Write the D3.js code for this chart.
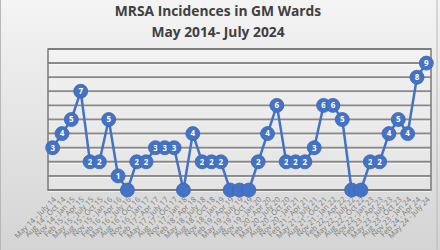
<!DOCTYPE html>
<html><head><meta charset="utf-8">
<script src="https://cdn.jsdelivr.net/npm/d3@7"></script>
<style>html,body{margin:0;padding:0;background:#fff;}svg{display:block;}</style>
</head><body>
<svg id="c" width="440" height="250"></svg>
<script>
const periods = ["May 14 - July 14","Aug 14 - Oct 14","Nov 14 - Jan 15","Feb 15 - Apr 15",
"May 15 - July 15","Aug 15 - Oct 15","Nov 15 - Jan 16","Feb 16 - Apr 16",
"May 16 - July 16","Aug 16 - Oct 16","Nov 16 - Jan 17","Feb 17 - Apr 17",
"May 17 - July 17","Aug 17 - Oct 17","Nov 17 - Jan 18","Feb 18 - Apr 18",
"May 18 - July 18","Aug 18 - Oct 18","Nov 18 - Jan 19","Feb 19 - Apr 19",
"May 19 - July 19","Aug 19 - Oct 19","Nov 19 - Jan 20","Feb 20 - Apr 20",
"May 20 - July 20","Aug 20 - Oct 20","Nov 20 - Jan 21","Feb 21 - Apr 21",
"May 21 - July 21","Aug 21 - Oct 21","Nov 21 - Jan 22","Feb 22 - Apr 22",
"May 22 - July 22","Aug 22 - Oct 22","Nov 22 - Jan 23","Feb 23 - Apr 23",
"May 23 - July 23","Aug 23 - Oct 23","Nov 23 - Jan 24","Feb 24 - Apr 24",
"May 24 - July 24"];
const incidences = [3,4,5,7,2,2,5,1,0,2,2,3,3,3,0,4,2,2,2,0,0,0,2,4,6,2,2,2,3,6,6,5,0,0,2,2,4,5,4,8,9];
const yTicks = [0,1,2,3,4,5,6,7,8,9,10];
const titleLines = ["MRSA Incidences in GM Wards","May 2014- July 2024"];

const svg = d3.select("#c");
const W=440,H=250;
const defs = svg.append("defs");
const g1 = defs.append("linearGradient").attr("id","bg").attr("x1",0).attr("y1",0).attr("x2",0).attr("y2",1);
g1.append("stop").attr("offset","0%").attr("stop-color","#f4f4f4");
g1.append("stop").attr("offset","100%").attr("stop-color","#d4d4d4");
const g2 = defs.append("linearGradient").attr("id","pa").attr("x1",0).attr("y1",0).attr("x2",0).attr("y2",1);
g2.append("stop").attr("offset","0%").attr("stop-color","#f2f2f2");
g2.append("stop").attr("offset","100%").attr("stop-color","#e4e4e4");

svg.append("rect").attr("x",0).attr("y",0).attr("width",W).attr("height",H).attr("fill","url(#bg)");
svg.append("rect").attr("x",0.5).attr("y",-2).attr("width",436.5).attr("height",H+4)
  .attr("fill","none").attr("stroke","#b8b8b8").attr("stroke-width",1);

const L=48,R=431,T=49,B=190;
const x = d3.scaleBand().domain(periods).range([L,R]);
const y = d3.scaleLinear().domain([0,10]).range([B,T]);

svg.append("rect").attr("x",L).attr("y",T).attr("width",R-L).attr("height",B-T).attr("fill","url(#pa)");

// gridlines
svg.append("g").selectAll("line").data(yTicks).join("line")
  .attr("x1",L).attr("x2",R).attr("y1",d=>y(d)).attr("y2",d=>y(d))
  .attr("stroke","#8a8a8a").attr("stroke-width",2);
svg.append("g").selectAll("line").data(yTicks.slice(0,-1)).join("line")
  .attr("x1",L).attr("x2",R).attr("y1",d=>y(d)+1.5).attr("y2",d=>y(d)+1.5)
  .attr("stroke","#ffffff").attr("stroke-width",1).attr("opacity",0.6);
svg.append("rect").attr("x",L).attr("y",T).attr("width",R-L).attr("height",B-T)
  .attr("fill","none").attr("stroke","#7a7a7a").attr("stroke-width",1.5);

// x axis labels
const xAxis = d3.axisBottom(x).tickSize(0).tickPadding(0);
const ax = svg.append("g").attr("transform",`translate(0,${B})`).call(xAxis);
ax.select(".domain").remove();
ax.selectAll("text")
  .attr("font-family","'Open Sans', sans-serif").attr("font-size","7.6px").attr("fill","#7c7c7c")
  .attr("text-anchor","end").attr("dy",0).attr("y",0)
  .attr("transform","translate(4,10) rotate(-45)");

// line
const cx = d=>x(d)+x.bandwidth()/2;
const line = d3.line().x((d,i)=>cx(periods[i])).y(d=>y(d));
svg.append("path").datum(incidences).attr("d",line)
  .attr("fill","none").attr("stroke","#4472c4").attr("stroke-width",2.5).attr("stroke-linejoin","round");

const pts = svg.append("g").selectAll("g").data(incidences).join("g")
  .attr("transform",(d,i)=>`translate(${cx(periods[i])},${y(d)})`);
pts.append("circle").attr("r",7).attr("fill","#4472c4").attr("stroke","#3a66b8").attr("stroke-width",0.8);
pts.filter(d=>d>0).append("text").text(d=>d)
  .attr("text-anchor","middle").attr("dy","0.36em")
  .attr("font-family","'Open Sans', sans-serif").attr("font-weight","bold").attr("font-size","8px").attr("fill","#ffffff");

// title
svg.append("g").selectAll("text").data(titleLines).join("text")
  .attr("x",218).attr("y",(d,i)=>16+i*20.5).attr("text-anchor","middle")
  .attr("font-family","'Open Sans', sans-serif").attr("font-weight","bold").attr("font-size","13.8px").attr("fill","#404040")
  .text(d=>d);
</script>
</body></html>
